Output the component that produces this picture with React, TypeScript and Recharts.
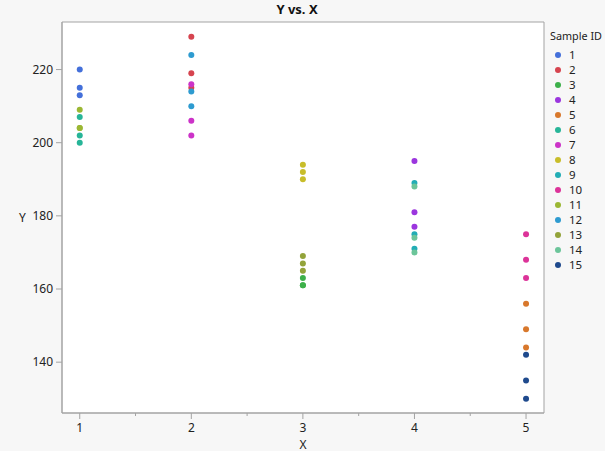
import React from 'react'
import { ScatterChart, Scatter, XAxis, YAxis, ReferenceArea } from 'recharts'

// Sample ID -> X level and its three Y readings
const sampleIds = ['1', '2', '3', '4', '5', '6', '7', '8', '9', '10', '11', '12', '13', '14', '15']
const sampleX = [1, 2, 3, 4, 5, 1, 2, 3, 4, 5, 1, 2, 3, 4, 5]
const sampleY = [
  [220, 215, 213],
  [229, 219, 215],
  [163, 161, 161],
  [195, 181, 177],
  [156, 149, 144],
  [207, 202, 200],
  [216, 206, 202],
  [194, 192, 190],
  [189, 175, 171],
  [175, 168, 163],
  [209, 204, 204],
  [224, 214, 210],
  [169, 167, 165],
  [188, 174, 170],
  [142, 135, 130],
]
const sampleColors = [
  '#4470DA', '#D6444F', '#3DB04A', '#9B36DE', '#D8782C',
  '#27B598', '#CC33C8', '#C8BD2A', '#22ADB5', '#DC3399',
  '#9BB733', '#2E9BD0', '#93A33A', '#6CC59A', '#1F4A8D',
]
const xTicks = [1, 1.5, 2, 2.5, 3, 3.5, 4, 4.5, 5]
const yTicks = [140, 160, 180, 200, 220]
const xDomain = [0.841, 5.161]
const yDomain = [126.1, 233.0]

const series = sampleIds.map((id, i) => ({
  id,
  color: sampleColors[i],
  points: sampleY[i].map((y) => ({ x: sampleX[i], y })),
}))

const FONT = '"Segoe UI", "Noto Sans", sans-serif'
const FRAME = '#A3A3A3'

function XTick({ x, y, payload }: any) {
  const major = Number.isInteger(payload.value)
  return (
    <g>
      <line x1={x} x2={x} y1={y} y2={y + (major ? 6 : 3)} stroke={FRAME} />
      {major && (
        <text x={x} y={y + 19} textAnchor="middle" fontSize={12} fill="#222" fontFamily={FONT}>
          {payload.value}
        </text>
      )}
    </g>
  )
}

function YTick({ x, y, payload }: any) {
  return (
    <g>
      <line x1={x - 6} x2={x} y1={y} y2={y} stroke={FRAME} />
      <text x={x - 9} y={y + 4} textAnchor="end" fontSize={12} fill="#222" fontFamily={FONT}>
        {payload.value}
      </text>
    </g>
  )
}

export default function App() {
  return (
    <div
      style={{
        position: 'fixed',
        left: 0,
        top: 0,
        width: 605,
        height: 451,
        background: '#F7F7F7',
        fontFamily: FONT,
      }}
    >
      <div
        style={{
          position: 'absolute',
          left: 197,
          width: 200,
          top: 0,
          textAlign: 'center',
          fontSize: 13,
          fontWeight: 'bold',
          lineHeight: '19px',
          color: '#111',
        }}
      >
        Y vs. X
      </div>

      <ScatterChart
        width={605}
        height={451}
        margin={{ top: 22, right: 61, bottom: 8, left: 2 }}
        style={{ position: 'absolute', left: 0, top: 0 }}
      >
        <XAxis
          type="number"
          dataKey="x"
          domain={xDomain}
          ticks={xTicks}
          interval={0}
          height={30}
          tickSize={0}
          tickMargin={0}
          tick={<XTick />}
          axisLine={{ stroke: FRAME }}
          allowDataOverflow
          label={{ value: 'X', position: 'insideBottom', offset: -5.5, fontSize: 12, fill: '#222', fontFamily: FONT }}
        />
        <YAxis
          type="number"
          dataKey="y"
          domain={yDomain}
          ticks={yTicks}
          interval={0}
          width={60}
          tickSize={0}
          tickMargin={0}
          tick={<YTick />}
          axisLine={{ stroke: FRAME }}
          allowDataOverflow
          label={{ value: 'Y', position: 'insideLeft', offset: 17, fontSize: 12, fill: '#222', fontFamily: FONT }}
        />
        <ReferenceArea
          x1={xDomain[0]}
          x2={xDomain[1]}
          y1={yDomain[0]}
          y2={yDomain[1]}
          fill="#FFFFFF"
          fillOpacity={1}
          stroke={FRAME}
          strokeWidth={1}
          ifOverflow="visible"
        />
        {series.map((s) => (
          <Scatter
            key={s.id}
            name={s.id}
            data={s.points}
            fill={s.color}
            isAnimationActive={false}
            shape={(p: any) => <circle cx={p.cx} cy={p.cy} r={3} fill={s.color} />}
          />
        ))}
      </ScatterChart>

      <div style={{ position: 'absolute', left: 550, top: 27, fontSize: 11.5, color: '#222', lineHeight: '15px' }}>
        <div style={{ height: 18, lineHeight: '18px', whiteSpace: 'nowrap', fontSize: 10.8 }}>Sample ID</div>
        <div style={{ marginTop: 2 }}>
          {series.map((s) => (
            <div key={s.id} style={{ display: 'flex', alignItems: 'center', height: 15, overflow: 'hidden' }}>
              <span
                style={{
                  display: 'inline-block',
                  width: 6,
                  height: 6,
                  borderRadius: 3,
                  background: s.color,
                  marginLeft: 5,
                  marginRight: 8,
                }}
              />
              <span>{s.id}</span>
            </div>
          ))}
        </div>
      </div>
    </div>
  )
}
